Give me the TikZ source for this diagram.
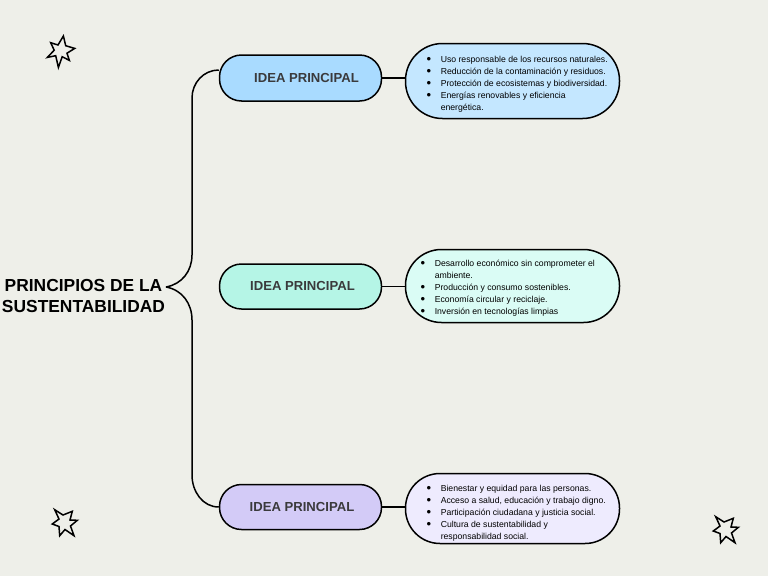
\documentclass[tikz,border=0pt]{standalone}
\usepackage{fontspec}
\setmainfont{Liberation Sans}
\definecolor{paper}{HTML}{EEEFE9}
\definecolor{ideaink}{HTML}{3A3A3C}
\definecolor{ideablue}{HTML}{A9DBFF}
\definecolor{ideagreen}{HTML}{B5F5E6}
\definecolor{ideaviolet}{HTML}{D3CBF7}
\definecolor{listblue}{HTML}{C4E7FF}
\definecolor{listgreen}{HTML}{DAFCF5}
\definecolor{listviolet}{HTML}{EEEBFE}
\newcommand{\itemline}[1]{\raisebox{-1.2pt}{\fontsize{13}{12}\selectfont\textbullet} & #1\\}
\newcommand{\moreline}[1]{ & #1\\}
\newenvironment{bulletlist}{\fontsize{8.68}{12}\selectfont\begin{tabular}{@{}l@{\hspace{9.5pt}}l@{}}}{\end{tabular}}
\tikzset{
	idea/.style = {draw,line width=1.5pt,rounded corners=22pt,minimum width=162pt,inner sep=0pt},
	idealabel/.style = {inner sep=0pt,text=ideaink,font=\fontsize{13.1}{16}\selectfont\bfseries},
	list/.style = {draw,line width=1.5pt,minimum width=214pt,inner sep=0pt},
	items/.style = {inner sep=0pt,anchor=west},
	link/.style = {line width=1.5pt},
	pics/sparkleA/.style = {code = {
		\draw[line width=1.5pt,line join=miter] (2.7,-15.7)--(5,-6)--(14,-3.3)--(6.3,1.5)--(8.7,8.7)--(1.5,5)--(-2.3,15.7)--(-5,4)--(-13.3,5.7)--(-6.5,-1.5)--(-10,-9)--(-2.7,-6.7)--cycle;
	}},
	pics/sparkleB/.style = {code = {
		\draw[line width=1.5pt,line join=miter] (-10.3,-13.3)--(-2,-8)--(7.3,-11.7)--(5,-3)--(12.3,-2.7)--(5.5,3)--(9,12.7)--(0,6.5)--(-5.3,12.7)--(-6,3.5)--(-12.7,1)--(-6,-4)--cycle;
	}}
}
\begin{document}
\begin{tikzpicture}[x=1pt,y=-1pt]
	\fill[paper] (0,0) rectangle (768,576);
	\useasboundingbox (0,0) rectangle (768,576);
	\node[font=\fontsize{17.4}{21}\selectfont\bfseries,align=center,inner sep=0pt] (root) at (83.5,296) {PRINCIPIOS DE LA\\SUSTENTABILIDAD};
	\node[idea,fill=ideablue,minimum height=46pt] (idea1) at (300.5,78) {};
	\node[idea,fill=ideagreen,minimum height=45pt] (idea2) at (300.5,286.5) {};
	\node[idea,fill=ideaviolet,minimum height=45pt] (idea3) at (300.5,507) {};
	\node[idealabel] (label1) at (306.5,77.5) {IDEA PRINCIPAL};
	\node[idealabel] (label2) at (302.5,285.5) {IDEA PRINCIPAL};
	\node[idealabel] (label3) at (302,506.5) {IDEA PRINCIPAL};
	\node[list,fill=listblue,minimum height=75pt,rounded corners=37pt] (list1) at (512.5,81) {};
	\node[list,fill=listgreen,minimum height=73pt,rounded corners=36pt] (list2) at (512.5,286) {};
	\node[list,fill=listviolet,minimum height=70pt,rounded corners=34.5pt] (list3) at (512.5,508.5) {};
	\node[items] (items1) at (426.5,84) {\begin{bulletlist}
		\itemline{Uso responsable de los recursos naturales.}
		\itemline{Reducción de la contaminación y residuos.}
		\itemline{Protección de ecosistemas y biodiversidad.}
		\itemline{Energías renovables y eficiencia}
		\moreline{energética.}
	\end{bulletlist}};
	\node[items] (items2) at (420.5,288) {\begin{bulletlist}
		\itemline{Desarrollo económico sin comprometer el}
		\moreline{ambiente.}
		\itemline{Producción y consumo sostenibles.}
		\itemline{Economía circular y reciclaje.}
		\itemline{Inversión en tecnologías limpias}
	\end{bulletlist}};
	\node[items] (items3) at (426.5,513) {\begin{bulletlist}
		\itemline{Bienestar y equidad para las personas.}
		\itemline{Acceso a salud, educación y trabajo digno.}
		\itemline{Participación ciudadana y justicia social.}
		\itemline{Cultura de sustentabilidad y}
		\moreline{responsabilidad social.}
	\end{bulletlist}};
	% brace from the title
	\coordinate (tip) at (166,287);
	\coordinate (top) at (idea1.west |- 0,70);
	\draw[link] (tip) to[out=10,in=-90] (192,255) -- (192,98) to[out=90,in=180] (top);
	\draw[link] (tip) to[out=-10,in=90] (192,320) -- (192,475) to[out=-90,in=180] (idea3.west);
	\foreach \n in {1,2,3}
		\draw[link] (idea\n.east) -- (idea\n.east -| list\n.west);
	\pic at (60.7,51.7) {sparkleA};
	\pic at (65,523) {sparkleB};
	\pic at (726,530) {sparkleB};
\end{tikzpicture}
\end{document}
